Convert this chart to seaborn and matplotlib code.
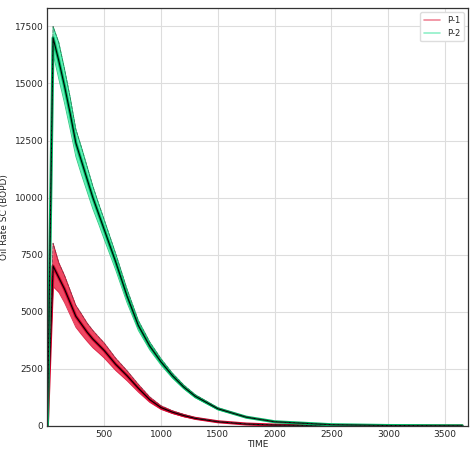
import matplotlib
matplotlib.use("Agg")
import matplotlib.pyplot as plt
import seaborn as sns
import pandas as pd

# values
time = [0, 50, 100, 150, 200, 250, 300, 350, 400, 450, 500, 600, 700, 800, 900, 1000,
        1100, 1200, 1300, 1500, 1750, 2000, 2500, 3000, 3500, 3650]
p1_mean = [0, 7000, 6500, 6000, 5400, 4800, 4450, 4100, 3800, 3550, 3300, 2700, 2200, 1650, 1150, 800,
           600, 450, 330, 180, 80, 35, 10, 3, 1, 1]
p1_low = [0, 6100, 5850, 5400, 4860, 4320, 4000, 3700, 3420, 3200, 2970, 2430, 1980, 1480, 1030, 720,
          540, 400, 300, 160, 70, 30, 9, 3, 1, 1]
p1_high = [0, 8000, 7150, 6600, 5940, 5280, 4900, 4500, 4180, 3900, 3630, 2970, 2420, 1820, 1270, 880,
           660, 500, 360, 200, 90, 40, 11, 3, 1, 1]
p2_mean = [0, 17000, 16000, 14900, 13700, 12400, 11600, 10800, 10000, 9300, 8600, 7200, 5700, 4400, 3500, 2800,
           2200, 1700, 1300, 750, 380, 180, 50, 15, 5, 4]
p2_low = [0, 16300, 15200, 14150, 13000, 11800, 11000, 10250, 9500, 8850, 8170, 6840, 5400, 4180, 3330, 2660,
          2090, 1620, 1230, 710, 360, 170, 48, 14, 5, 4]
p2_high = [0, 17500, 16800, 15650, 14400, 13000, 12200, 11350, 10500, 9750, 9030, 7560, 6000, 4620, 3680, 2940,
           2310, 1790, 1370, 790, 400, 190, 53, 16, 5, 4]

wells = ["P-1", "P-2"]
colors = {"P-1": "#d4002a", "P-2": "#00b865"}
band_colors = {"P-1": "#ee2848", "P-2": "#40f0aa"}
legend_colors = {"P-1": "#f08898", "P-2": "#90f0c8"}

sns.set_theme(style="whitegrid")
plt.rcParams["font.family"] = ["DejaVu Sans"]

fig, ax = plt.subplots(figsize=(4.74, 4.54), dpi=100)

data = {"P-1": (p1_mean, p1_low, p1_high), "P-2": (p2_mean, p2_low, p2_high)}
for w in wells:
    mean, low, high = data[w]
    df = pd.DataFrame({"TIME": time, "rate": mean})
    ax.fill_between(time, low, high, color=band_colors[w], alpha=0.85, lw=0)
    ax.plot(time, low, color=colors[w], lw=0.6, alpha=0.8)
    ax.plot(time, high, color=colors[w], lw=0.6, alpha=0.8)
    sns.lineplot(data=df, x="TIME", y="rate", ax=ax, color=colors[w], lw=2.2)
    sns.lineplot(data=df, x="TIME", y="rate", ax=ax, color="black", lw=0.8)
    ax.plot(time, [v * 1.0 for v in high], color="#444444", lw=0.6, ls="--", alpha=0.6)
    ax.plot([], [], color=legend_colors[w], lw=1.2, label=w)

ax.set_xlim(0, 3700)
ax.set_ylim(0, 18300)
ax.set_xticks([500, 1000, 1500, 2000, 2500, 3000, 3500])
ax.set_yticks(range(0, 17501, 2500))
ax.set_xlabel("TIME", fontsize=6.5, labelpad=1)
ax.set_ylabel("Oil Rate SC (BOPD)", fontsize=6.5)
ax.tick_params(labelsize=6.5, length=2, pad=1)
ax.grid(color="#dddddd", lw=0.8)
for s in ax.spines.values():
    s.set_color("#333333")
    s.set_linewidth(0.9)
ax.legend(loc="upper right", fontsize=6, frameon=True, framealpha=1, edgecolor="#dddddd")

plt.subplots_adjust(left=0.1, right=0.987, top=0.982, bottom=0.062)
fig.savefig("out.png", dpi=100)
